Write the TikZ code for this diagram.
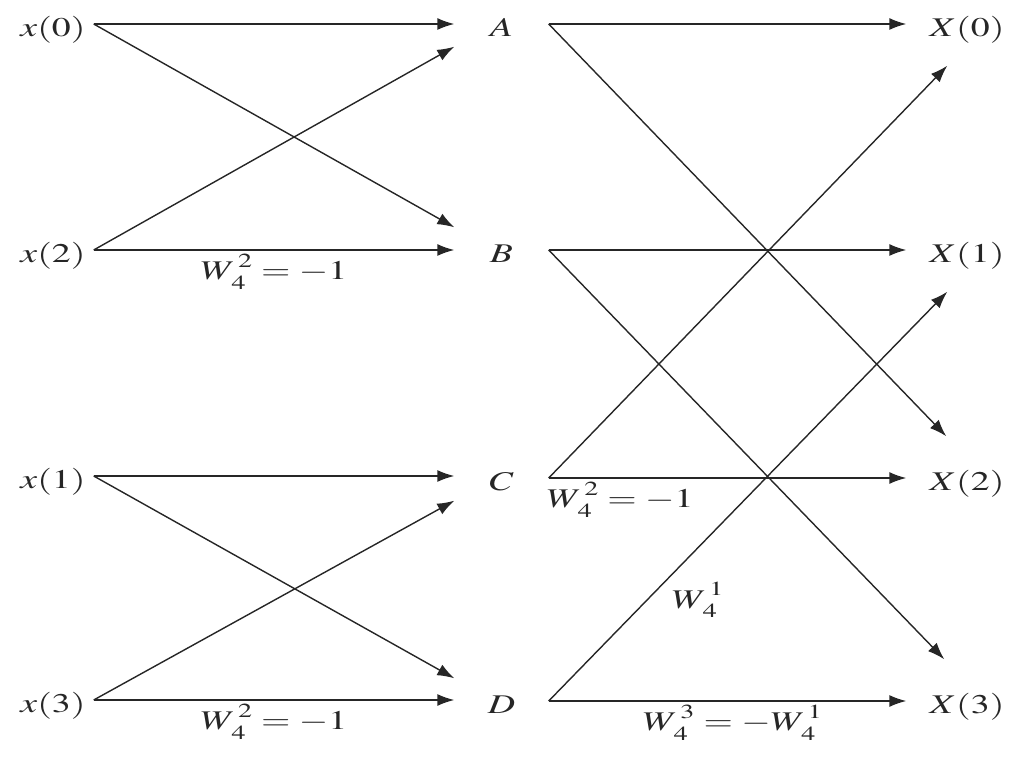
\documentclass[tikz,border=0pt]{standalone}
\usepackage{mathptmx}
\usetikzlibrary{arrows.meta}

\newcommand\wlab[1]{\scalebox{1.4}[1]{$#1$}}
\newcommand\tw[2]{W^{\,\raisebox{3pt}{$\scriptstyle #1$}}_{\,\raisebox{-3pt}{$\scriptstyle #2$}}}

\begin{document}
\begin{tikzpicture}[x=1pt, y=-1pt, >={Latex[length=17pt,width=12pt]}, line width=1.4pt, color=black!85,
	lbl/.style={inner sep=0pt, font=\fontsize{27}{32}\selectfont, text height=25pt, text depth=0pt},
	inbox/.style={lbl, minimum width=80pt},
	midbox/.style={lbl, minimum width=93pt, minimum height=44pt},
	outbox/.style={lbl, minimum width=120pt, minimum height=82pt},
	wlbl/.style={inner sep=3pt, font=\fontsize{27}{32}\selectfont}]

	\useasboundingbox (0,0) rectangle (1026,759);

	% Eingaenge
	\node[inbox](x0) at (53,24) {\wlab{x(0)}};
	\node[inbox](x2) at (53,250) {\wlab{x(2)}};
	\node[inbox](x1) at (53,476) {\wlab{x(1)}};
	\node[inbox](x3) at (53,700) {\wlab{x(3)}};

	% Zwischenwerte
	\node[midbox](A) at (501.5,24) {\wlab{A}};
	\node[midbox](B) at (501.5,250) {\wlab{B}};
	\node[midbox](C) at (501.5,478) {\wlab{C}};
	\node[midbox](D) at (501.5,701) {\wlab{D}};

	% Ausgaenge
	\node[outbox](X0) at (967,24) {\wlab{X(0)}};
	\node[outbox](X1) at (967,250) {\wlab{X(1)}};
	\node[outbox](X2) at (967,478) {\wlab{X(2)}};
	\node[outbox](X3) at (967,701) {\wlab{X(3)}};

	% erste Stufe
	\draw[->](x0) -- (A);
	\draw[->](x0.east) -- (B.north west);
	\draw[->](x2.east) -- (A.south west);
	\draw[->](x2) -- node[wlbl, below] {\wlab{\tw{2}{4}=-1}} (B);

	\draw[->](x1.east) -- (x1.east -| C.west);
	\draw[->](x1.east) -- (D.north west);
	\draw[->](x3.east) -- (C.south west);
	\draw[->](x3.east) -- node[wlbl, below] {\wlab{\tw{2}{4}=-1}} (x3.east -| D.west);

	% zweite Stufe
	\draw[->](A) -- (X0);
	\draw[->](A.east) -- ([xshift=40pt]X2.north west);
	\draw[->](B) -- (X1);
	\draw[->](B.east) -- ([xshift=38pt]X3.north west);
	\draw[->](C) -- node[wlbl, pos=0.2, below] {\wlab{\tw{2}{4}=-1}} (X2);
	\draw[->](C.east) -- ([xshift=41pt]X0.south west);
	\draw[->](D) -- node[wlbl, pos=0.515, below] {\wlab{\tw{3}{4}=-\tw{1}{4}}} (X3);
	\draw[->](D.east) -- node[wlbl, pos=0.3, below right] {\wlab{\tw{1}{4}}} ([xshift=41pt]X1.south west);
\end{tikzpicture}
\end{document}
